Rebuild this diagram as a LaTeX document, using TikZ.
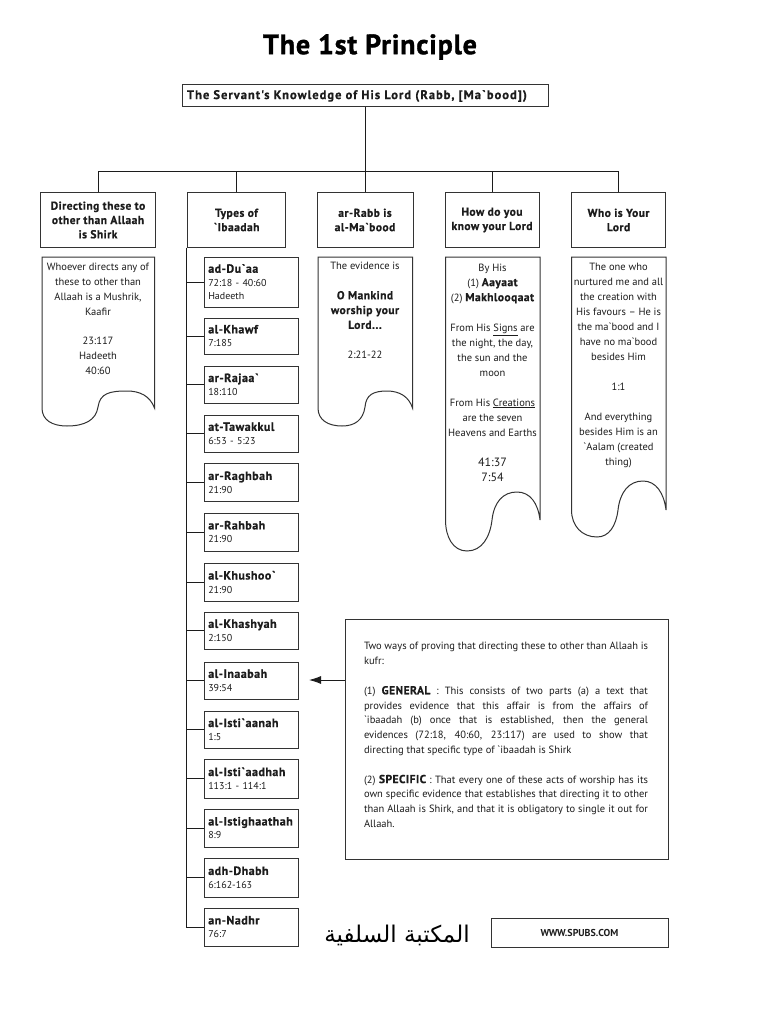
\documentclass[tikz,border=0pt]{standalone}
\usepackage{fontspec}
\usetikzlibrary{arrows.meta, positioning}
\TeXXeTstate=1
\newfontfamily\bodyfont{PT Sans}
\newfontfamily\headfont[LetterSpace=4,FakeBold=0.6]{PT Sans Bold}
\newfontfamily\rootfont[LetterSpace=8,FakeBold=0.6]{PT Sans Bold}
\newfontfamily\titlefont[LetterSpace=3,FakeBold=1.2]{PT Sans Bold}
\newfontfamily\arabicfont[Script=Arabic]{DejaVu Sans}
\newcommand{\hb}[1]{{\headfont\fontsize{11.5}{15}\selectfont #1}}
\newcommand{\nm}[1]{{\headfont\fontsize{12}{13.5}\selectfont #1}}
\definecolor{spink}{HTML}{1C1C1C}
\definecolor{spline}{HTML}{333333}
\begin{document}
\begin{tikzpicture}[
  x=1pt, y=-1pt,
  every node/.style={font=\bodyfont\fontsize{10.5}{14.8}\selectfont, text=spink},
  wire/.style={draw=spink, line width=0.9pt},
  edgeline/.style={draw=spline, line width=1pt},
  rootbox/.style={rectangle, draw=spline, line width=1pt, minimum width=366pt, minimum height=22pt, text width=356pt, inner xsep=5pt, inner ysep=0pt, align=left, font=\rootfont\fontsize{12.5}{14}\selectfont},
  headbox/.style={rectangle, draw=spline, line width=1pt, minimum height=54pt, inner sep=0pt, align=center, font=\headfont\fontsize{11.5}{14.3}\selectfont},
  typebox/.style={rectangle, draw=spline, line width=1pt, minimum width=94.5pt, text width=86.5pt, inner xsep=4pt, inner ysep=0pt, align=left, font=\bodyfont\fontsize{10}{13.5}\selectfont},
  scrolltext/.style={anchor=north, inner sep=0pt, align=center},
  tallscroll/.style={scrolltext, font=\bodyfont\fontsize{10.5}{15}\selectfont},
]
\useasboundingbox (0,0) rectangle (768,1024);
\fill[white] (0,0) rectangle (768,1024);

\node[font=\titlefont\fontsize{28}{30}\selectfont, text=black] (title) at (370,47) {The 1st Principle};
\node[rootbox] (root) at (365,96) {The Servant's Knowledge of His Lord (Rabb, [Ma`bood])};

\node[headbox, minimum width=115pt] (hshirk) at (98,220) {Directing these to\\other than Allaah\\is Shirk};
\node[headbox, minimum width=98.5pt] (htypes) at (236.5,220) {Types of\\`Ibaadah};
\node[headbox, minimum width=96pt] (hrabb) at (365,220) {ar-Rabb is\\al-Ma`bood};
\node[headbox, minimum width=94pt] (hknow) at (492,220) {How do you\\know your Lord};
\node[headbox, minimum width=94.5pt] (hwho) at (618.5,220) {Who is Your\\Lord};

\coordinate (bus) at (365,171);
\draw[wire] (root.south) -- (bus);
\draw[wire] (hshirk.north) |- (bus);
\draw[wire] (htypes.north) |- (bus);
\draw[wire] (hrabb.north) -- (bus);
\draw[wire] (hknow.north) |- (bus);
\draw[wire] (hwho.north) |- (bus);

% scrolls
\draw[edgeline] (42,257) -- (154.5,257) -- (154.5,408) .. controls (150,396) and (140,391) .. (127,391) .. controls (110,391) and (100,393) .. (98,407) .. controls (96,420) and (85,426) .. (67,426) .. controls (52,426) and (42,420) .. (42,408) -- cycle;
\draw[edgeline] (318,257) -- (412.5,257) -- (412.5,408) .. controls (409,397) and (400,391) .. (387,391) .. controls (373,391) and (366,395) .. (365,407) .. controls (363,420) and (355,426) .. (342,426) .. controls (328,426) and (318,420) .. (318,408) -- cycle;
\draw[edgeline] (445.5,257) -- (540,257) -- (540,520) .. controls (538,503) and (530,492) .. (517,492) .. controls (503,492) and (494,502) .. (492,520) .. controls (490,537) and (482,551) .. (467,551) .. controls (453,551) and (445.5,537) .. (445.5,520) -- cycle;
\draw[edgeline] (571.5,257) -- (666,257) -- (666,510) .. controls (664,493) and (656,481) .. (643,481) .. controls (629,481) and (620,492) .. (618,510) .. controls (616,526) and (609,537) .. (597,537) .. controls (582,537) and (571.5,526) .. (571.5,510) -- cycle;

\node[scrolltext] (tshirk) at (98,263) {Whoever directs any of\\these to other than\\Allaah is a Mushrik,\\Kaafir\\[14.8pt]23:117\\Hadeeth\\40:60};
\node[scrolltext] (trabb) at (365,262) {The evidence is\\[14.8pt]\hb{O Mankind}\\\hb{worship your}\\\hb{Lord...}\\[14.8pt]2:21-22};
\node[tallscroll] (tknow) at (492.5,263.5) {By His\\(1) \hb{Aayaat}\\(2) \hb{Makhlooqaat}\\[15pt]From His \underline{Signs} are\\the night, the day,\\the sun and the\\moon\\[15pt]From His \underline{Creations}\\are the seven\\Heavens and Earths\\[15pt]{\fontsize{12}{15}\selectfont 41:37}\\{\fontsize{12}{15}\selectfont 7:54}};
\node[tallscroll] (twho) at (618.5,263) {The one who\\nurtured me and all\\the creation with\\His favours – He is\\the ma`bood and I\\have no ma`bood\\besides Him\\[15pt]1:1\\[15pt]And everything\\besides Him is an\\`Aalam (created\\thing)};

% types of worship
\node[typebox, minimum height=50pt] (dua) at (251.5,282) {\nm{ad-Du`aa}\\72:18 - 40:60\\Hadeeth};
\node[typebox, minimum height=36pt] (khawf) at (251.5,336) {\nm{al-Khawf}\\7:185};
\node[typebox, minimum height=37pt] (rajaa) at (251.5,384.5) {\nm{ar-Rajaa`}\\18:110};
\node[typebox, minimum height=37pt] (tawakkul) at (251.5,433.5) {\nm{at-Tawakkul}\\6:53 - 5:23};
\node[typebox, minimum height=38pt] (raghbah) at (251.5,482.5) {\nm{ar-Raghbah}\\21:90};
\node[typebox, minimum height=38pt] (rahbah) at (251.5,532) {\nm{ar-Rahbah}\\21:90};
\node[typebox, minimum height=38pt] (khushoo) at (251.5,582) {\nm{al-Khushoo`}\\21:90};
\node[typebox, minimum height=37pt] (khashyah) at (251.5,630.5) {\nm{al-Khashyah}\\2:150};
\node[typebox, minimum height=37pt] (inaabah) at (251.5,680.5) {\nm{al-Inaabah}\\39:54};
\node[typebox, minimum height=37pt] (aanah) at (251.5,729.5) {\nm{al-Isti`aanah}\\1:5};
\node[typebox, minimum height=39pt] (aadhah) at (251.5,778.5) {\nm{al-Isti`aadhah}\\113:1 - 114:1};
\node[typebox, minimum height=38pt] (ghaathah) at (251.5,828) {\nm{al-Istighaathah}\\8:9};
\node[typebox, minimum height=39pt] (dhabh) at (251.5,877.5) {\nm{adh-Dhabh}\\6:162-163};
\node[typebox, minimum height=38pt] (nadhr) at (251.5,927) {\nm{an-Nadhr}\\76:7};

\draw[wire] (htypes.south west) |- (nadhr.west);
\draw[wire] (dua.west) -- (dua.west -| htypes.south west);
\draw[wire] (khawf.west) -- (khawf.west -| htypes.south west);
\draw[wire] (rajaa.west) -- (rajaa.west -| htypes.south west);
\draw[wire] (tawakkul.west) -- (tawakkul.west -| htypes.south west);
\draw[wire] (raghbah.west) -- (raghbah.west -| htypes.south west);
\draw[wire] (rahbah.west) -- (rahbah.west -| htypes.south west);
\draw[wire] (khushoo.west) -- (khushoo.west -| htypes.south west);
\draw[wire] (khashyah.west) -- (khashyah.west -| htypes.south west);
\draw[wire] (inaabah.west) -- (inaabah.west -| htypes.south west);
\draw[wire] (aanah.west) -- (aanah.west -| htypes.south west);
\draw[wire] (aadhah.west) -- (aadhah.west -| htypes.south west);
\draw[wire] (ghaathah.west) -- (ghaathah.west -| htypes.south west);
\draw[wire] (dhabh.west) -- (dhabh.west -| htypes.south west);

\node[rectangle, draw=spline, line width=1pt, minimum width=323pt, minimum height=240pt] (proof) at (506.5,739) {};
\node[text width=284pt, inner sep=0pt, align=justify, font=\bodyfont\fontsize{10.5}{14.8}\selectfont] (prooftext) at (506,735) {Two ways of proving that directing these to other than Allaah is\\kufr:\\[14.8pt](1) \hb{GENERAL} : This consists of two parts (a) a text that\linebreak provides evidence that this affair is from the affairs of\linebreak `ibaadah (b) once that is established, then the general\linebreak evidences (72:18, 40:60, 23:117) are used to show that\linebreak directing that specific type of `ibaadah is Shirk\\[14.8pt](2) \hb{SPECIFIC} : That every one of these acts of worship has its\linebreak own specific evidence that establishes that directing it to other\linebreak than Allaah is Shirk, and that it is obligatory to single it out for\linebreak Allaah.};
\coordinate (arrowend) at (309,680);
\draw[wire, -{Latex[length=12pt, width=8pt]}] (proof.west |- arrowend) -- (arrowend);

\node[font=\arabicfont\fontsize{23}{28}\selectfont, text=black] (logo) at (397,935) {\beginR المكتبة السلفية\endR};
\node[rectangle, draw=spline, line width=1pt, minimum width=177pt, minimum height=29pt, inner sep=0pt, font=\bodyfont\bfseries\fontsize{10}{12}\selectfont] (web) at (579.5,932.5) {WWW.SPUBS.COM};
\end{tikzpicture}
\end{document}
